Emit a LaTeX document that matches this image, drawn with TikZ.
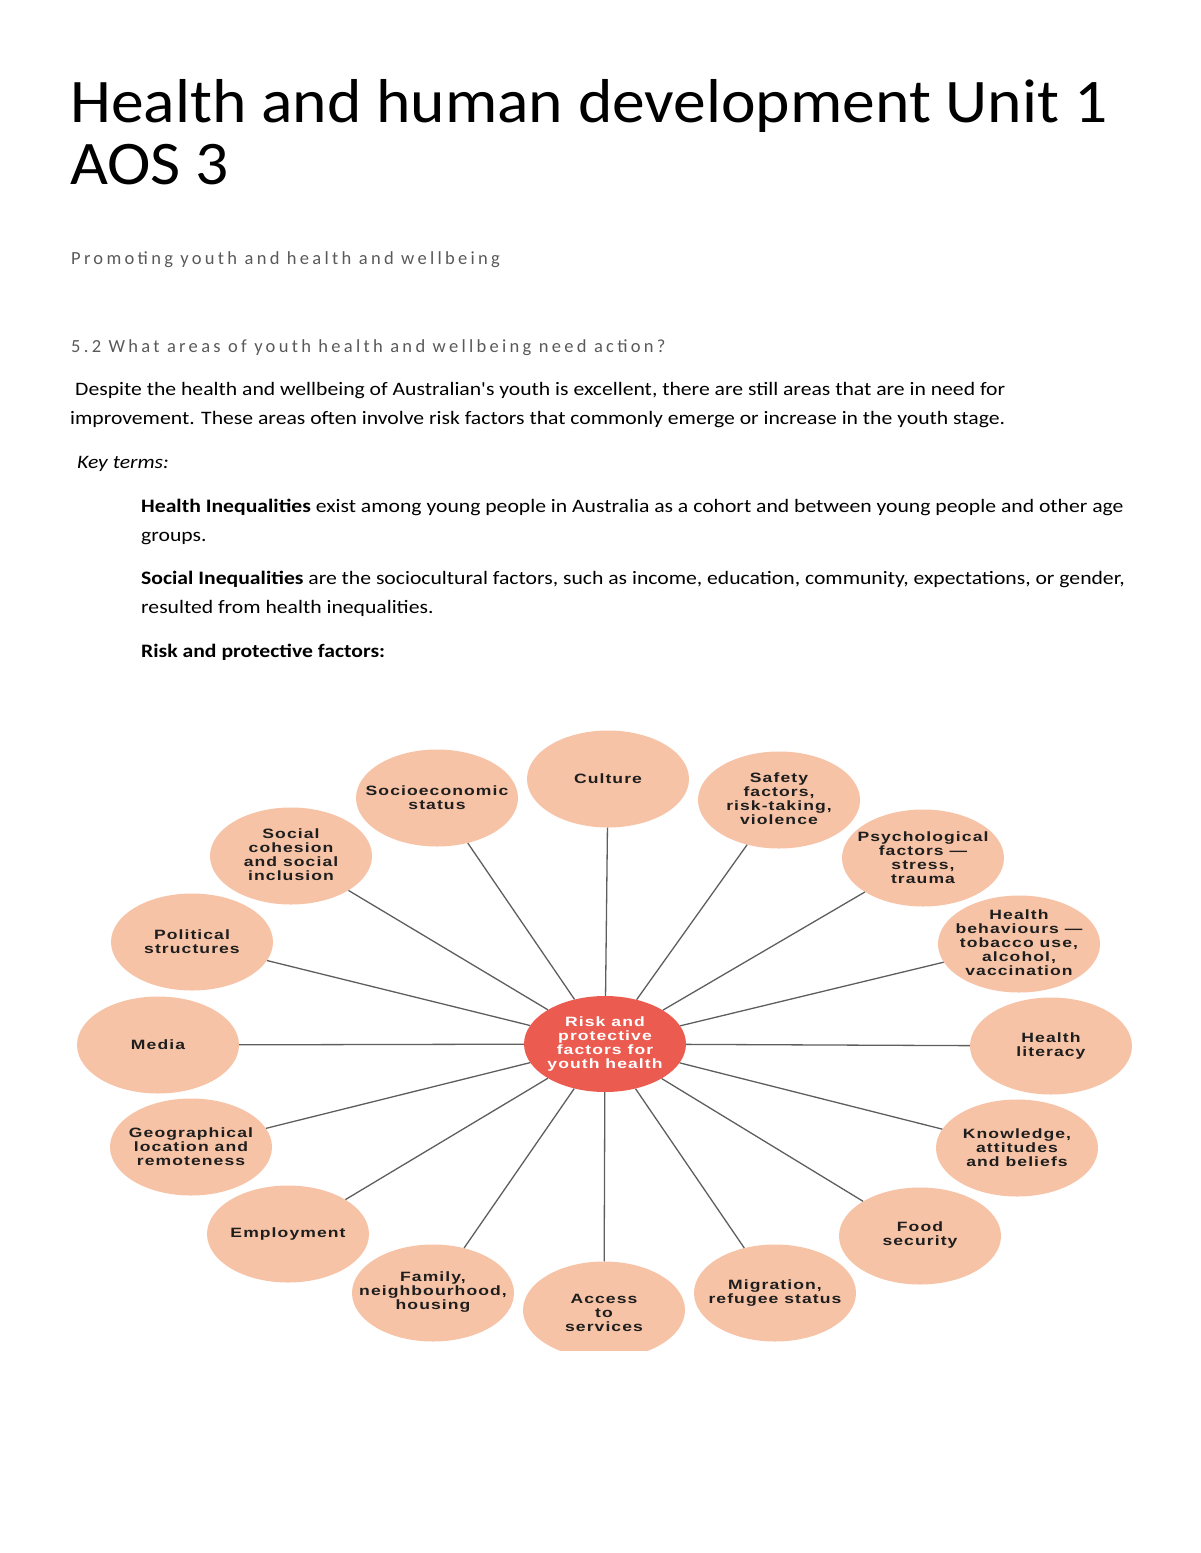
\documentclass[tikz,border=0pt]{standalone}
\usepackage{fontspec}
\setmainfont{Carlito}
\newfontfamily\diagfont{Liberation Sans}[FakeStretch=1.3,LetterSpace=8]
\newfontfamily\bodyfont{Carlito}[FakeStretch=1.14]
\newfontfamily\titlefont{Carlito}[FakeStretch=1.057]
\newfontfamily\subfont{Carlito}[LetterSpace=17.8]
\usetikzlibrary{shapes.geometric}
\definecolor{peach}{HTML}{F7C3A6}
\definecolor{hubred}{HTML}{EC5B50}
\definecolor{linec}{HTML}{5E5E5E}
\definecolor{subgray}{HTML}{595959}
\definecolor{labtxt}{HTML}{1E1E1E}
\begin{document}
\begin{tikzpicture}[x=1pt,y=-1pt,
  sat/.style={ellipse, fill=peach, minimum width=162pt, minimum height=97pt, inner sep=0pt},
  hub/.style={ellipse, fill=hubred, minimum width=162pt, minimum height=96pt, inner sep=0pt},
  lab/.style={align=center, font=\diagfont\bfseries\fontsize{13.5}{14}\selectfont, text=labtxt, inner sep=0pt},
  hublab/.style={lab, text=white},
  conn/.style={draw=linec, line width=1.3pt},
  body/.style={anchor=base west, inner sep=0pt, font=\bodyfont\fontsize{19}{29}\selectfont},
  sub/.style={anchor=base west, inner sep=0pt, text=subgray, font=\subfont\fontsize{18.5}{20}\selectfont},
  ttl/.style={anchor=base west, inner sep=0pt, font=\titlefont\fontsize{62}{62}\selectfont}]
\useasboundingbox (0,0) rectangle (1200,1553);
% heading text
\node[ttl] (title1) at (70,122) {Health and human development Unit 1};
\node[ttl] (title2) at (70,184) {AOS 3};
\node[sub] (subt) at (71,264) {Promoting youth and health and wellbeing};
\node[sub] (q52) at (71,352) {5.2 What areas of youth health and wellbeing need action?};
\node[body] (p1a) at (75,395) {Despite the health and wellbeing of Australian's youth is excellent, there are still areas that are in need for};
\node[body] (p1b) at (70,424) {improvement. These areas often involve risk factors that commonly emerge or increase in the youth stage.};
\node[body] (kt) at (77,468) {\itshape Key terms:};
\node[body] (hi1) at (141,512) {\bfseries Health Inequalities \mdseries exist among young people in Australia as a cohort and between young people and other age};
\node[body] (hi2) at (141,541) {groups.};
\node[body] (si1) at (141,584) {\bfseries Social Inequalities \mdseries are the sociocultural factors, such as income, education, community, expectations, or gender,};
\node[body] (si2) at (141,613) {resulted from health inequalities.};
\node[body] (rp) at (141,657) {\bfseries Risk and protective factors:};
% diagram
\begin{scope}
\clip (0,700) rectangle (1200,1350);
\node[hub] (hub) at (605,1044) {};
\node[hublab] (hubt) at (605,1044) {Risk and\\protective\\factors for\\youth health};
\node[sat] (cul) at (608,779) {};
\node[lab] (cult) at (608,779) {Culture};
\node[sat] (soc) at (437,798) {};
\node[lab] (soct) at (437,798) {Socioeconomic\\status};
\node[sat] (coh) at (291,856) {};
\node[lab] (coht) at (291,855) {Social\\cohesion\\and social\\inclusion};
\node[sat] (pol) at (192,942) {};
\node[lab] (polt) at (192,942) {Political\\structures};
\node[sat] (med) at (158,1045) {};
\node[lab] (medt) at (158,1045) {Media};
\node[sat] (geo) at (191,1147) {};
\node[lab] (geot) at (191,1147) {Geographical\\location and\\remoteness};
\node[sat] (emp) at (288,1234) {};
\node[lab] (empt) at (288,1234) {Employment};
\node[sat] (fam) at (433,1293) {};
\node[lab] (famt) at (433,1292) {Family,\\neighbourhood,\\housing};
\node[sat] (acc) at (604,1310) {};
\node[lab] (acct) at (604,1313) {Access\\to\\services};
\node[sat] (mig) at (775,1293) {};
\node[lab] (migt) at (775,1293) {Migration,\\refugee status};
\node[sat] (food) at (920,1236) {};
\node[lab] (foodt) at (920,1235) {Food\\security};
\node[sat] (know) at (1017,1148) {};
\node[lab] (knowt) at (1017,1148) {Knowledge,\\attitudes\\and beliefs};
\node[sat] (lit) at (1051,1046) {};
\node[lab] (litt) at (1051,1046) {Health\\literacy};
\node[sat] (beh) at (1019,944) {};
\node[lab] (beht) at (1019,943) {Health\\behaviours —\\tobacco use,\\alcohol,\\vaccination};
\node[sat] (psy) at (923,858) {};
\node[lab] (psyt) at (923,858) {Psychological\\factors —\\stress,\\trauma};
\node[sat] (saf) at (779,800) {};
\node[lab] (saft) at (779,799) {Safety\\factors,\\risk-taking,\\violence};
\foreach \n in {cul,soc,coh,pol,med,geo,emp,fam,acc,mig,food,know,lit,beh,psy,saf}
  \draw[conn] (hub) -- (\n);
\end{scope}
\end{tikzpicture}
\end{document}
